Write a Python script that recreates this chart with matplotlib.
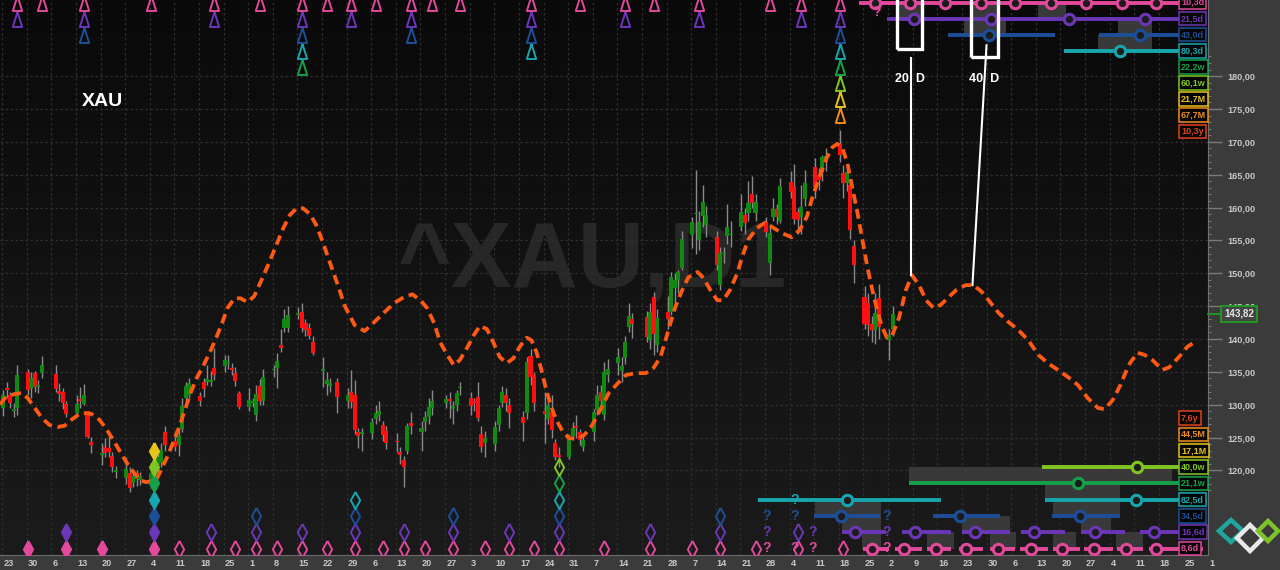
import matplotlib
matplotlib.use("Agg")
import matplotlib.pyplot as plt
import matplotlib.dates as mdates
import numpy as np
import pandas as pd
from matplotlib.patches import Rectangle, Polygon
from matplotlib.transforms import blended_transform_factory
from matplotlib.colors import LinearSegmentedColormap
from matplotlib.ticker import FixedLocator, FuncFormatter

plt.rcParams['font.family'] = ['Liberation Sans', 'DejaVu Sans']

# ------------------------------------------------------------------ data
start = pd.Timestamp("2021-08-23")
holidays = pd.to_datetime(["2021-09-06", "2021-11-25", "2021-12-24",
                           "2022-01-17", "2022-02-21", "2022-04-15"])
days = pd.bdate_range("2021-08-23", "2022-05-03")
days = days[~days.isin(holidays)]

# daily OHLC of ^XAU, one line per week
opn = [129.5, 132.6, 131.5, 129.0, 129.5,
       135.0, 132.5, 134.8, 132.7, 134.8,
       134.7, 132.1, 131.9, 130.1,
       128.7, 130.9, 130.1, 129.0, 124.3,
       122.3, 123.6, 123.4, 122.2, 119.8,
       118.8, 119.6, 118.1, 119.6, 118.5,
       118.2, 119.5, 120.8, 121.1, 125.8,
       124.5, 123.9, 126.3, 131.0, 131.5,
       131.3, 133.5, 133.5, 133.5, 135.6,
       135.9, 136.3, 135.6, 134.8, 131.8,
       129.6, 130.2, 128.4, 132.8, 130.6,
       135.3, 135.6, 139.1, 141.7, 141.7,
       143.6, 144.1, 142.5, 141.7, 139.5,
       135.2, 133.1, 132.8, 133.5,
       130.6, 131.9, 131.5, 125.8, 125.6,
       125.7, 127.8, 128.4, 126.9, 126.0,
       124.5, 122.8, 121.6, 123.0, 127.2,
       125.8, 127.4, 128.1, 129.5,
       130.3, 130.9, 129.3, 130.0, 132.5,
       131.0, 130.6, 131.2, 125.5, 124.2,
       124.0, 126.9, 130.3, 131.5, 130.0,
       128.1, 128.7, 137.4, 134.5,
       129.0, 127.8, 128.9, 124.2, 122.3,
       122.0, 125.2, 126.8, 125.9, 123.6,
       125.8, 129.2, 131.9, 128.4, 134.5,
       136.3, 135.1, 137.1, 141.8, 143.0,
       143.3, 139.8, 146.4, 139.1,
       144.1, 144.1, 147.8, 149.0, 150.8,
       155.8, 159.0, 155.0, 158.7, 157.4,
       155.5, 148.2, 152.9, 155.7, 155.8,
       157.0, 158.9, 159.2, 162.1, 159.2,
       157.8, 151.6, 158.6, 159.8, 158.0,
       163.9, 163.1, 159.3, 158.6, 161.3,
       166.2, 165.0, 165.4, 166.9,
       169.7, 165.3, 163.7, 163.4, 154.2,
       146.4, 145.5, 142.3, 141.4, 146.2,
       139.8, 141.5]
high = [132.2, 133.5, 132.0, 130.3, 136.0,
        135.5, 135.0, 135.2, 133.8, 137.4,
        136.0, 133.3, 132.5, 130.5,
        131.5, 132.7, 133.2, 129.0, 125.1,
        124.2, 124.9, 125.7, 122.8, 120.6,
        122.0, 120.5, 120.0, 120.1, 119.8,
        121.0, 121.8, 122.5, 124.2, 126.8,
        126.0, 126.5, 131.0, 133.5, 134.0,
        132.0, 134.0, 136.0, 135.2, 138.6,
        137.5, 137.5, 136.4, 135.8, 132.1,
        132.5, 131.0, 133.0, 133.9, 135.5,
        136.0, 137.8, 141.5, 144.5, 145.0,
        144.8, 145.5, 143.0, 142.5, 140.5,
        137.3, 135.0, 134.0, 134.0,
        132.5, 135.3, 133.8, 126.5, 126.5,
        128.0, 130.0, 130.5, 127.5, 126.8,
        125.7, 123.5, 122.2, 127.2, 128.9,
        127.5, 129.0, 131.0, 132.3,
        131.5, 132.0, 130.5, 132.3, 133.5,
        132.0, 131.0, 133.5, 126.8, 126.0,
        127.5, 130.0, 132.8, 132.5, 131.0,
        129.0, 137.3, 138.5, 135.0,
        132.0, 131.5, 131.5, 124.8, 123.5,
        125.5, 127.3, 128.4, 126.3, 125.6,
        129.4, 133.0, 133.0, 136.5, 137.0,
        138.7, 137.3, 140.5, 145.5, 144.0,
        144.2, 145.5, 147.2, 144.5,
        146.5, 150.2, 150.0, 150.5, 156.5,
        158.5, 165.7, 159.5, 163.5, 160.3,
        156.5, 154.0, 154.0, 160.5, 158.0,
        162.0, 160.0, 164.0, 164.8, 162.0,
        158.5, 157.5, 161.5, 160.5, 164.5,
        165.5, 166.7, 160.0, 163.5, 165.7,
        167.5, 166.0, 168.0, 169.0,
        171.8, 166.5, 166.0, 164.0, 155.0,
        148.0, 147.0, 143.5, 147.0, 148.3,
        141.5, 145.0]
low = [128.3, 131.0, 129.5, 128.2, 128.5,
       131.5, 131.0, 132.0, 131.8, 134.0,
       132.0, 130.5, 129.3, 128.2,
       128.3, 129.5, 129.9, 125.0, 122.6,
       120.8, 122.0, 122.0, 119.8, 118.9,
       118.0, 116.7, 117.5, 117.6, 117.8,
       117.3, 118.6, 119.5, 120.5, 123.0,
       123.0, 122.2, 125.8, 130.5, 131.0,
       129.8, 131.2, 133.0, 132.8, 133.8,
       135.0, 135.5, 134.5, 132.8, 129.4,
       129.0, 129.7, 127.5, 130.0, 130.0,
       134.2, 132.5, 138.0, 141.0, 141.0,
       143.0, 141.0, 140.5, 140.0, 137.5,
       132.7, 131.5, 132.0, 128.7,
       129.5, 129.5, 125.5, 123.4, 123.0,
       124.8, 127.0, 127.5, 124.5, 123.2,
       122.8, 121.0, 117.5, 122.5, 125.5,
       123.0, 126.0, 127.0, 128.5,
       129.5, 128.0, 127.0, 129.0, 131.5,
       128.5, 129.0, 127.5, 122.8, 122.0,
       123.0, 126.0, 129.7, 129.0, 126.5,
       124.5, 127.8, 133.0, 129.0,
       124.2, 127.0, 125.0, 121.6, 120.5,
       121.7, 124.6, 125.0, 123.9, 122.9,
       124.5, 128.5, 129.5, 127.7, 133.5,
       134.5, 133.5, 136.2, 141.0, 140.2,
       139.5, 138.5, 137.6, 138.0,
       141.5, 143.7, 145.5, 147.0, 150.5,
       153.9, 153.0, 153.6, 157.0, 155.6,
       150.5, 147.5, 151.5, 154.5, 154.0,
       156.5, 156.0, 158.0, 159.9, 158.0,
       155.5, 149.7, 158.0, 157.5, 157.6,
       161.5, 157.5, 156.0, 156.0, 160.3,
       161.5, 162.7, 164.0, 165.5,
       167.0, 161.5, 162.5, 155.2, 148.5,
       141.5, 140.5, 139.5, 139.2, 140.0,
       136.8, 140.5]
close = [131.5, 132.2, 130.3, 129.4, 134.5,
         132.2, 134.0, 132.7, 133.0, 136.0,
         132.4, 131.6, 130.3, 128.6,
         130.1, 130.6, 131.4, 125.1, 123.9,
         122.6, 122.6, 122.8, 120.5, 120.0,
         120.2, 117.3, 119.1, 118.7, 119.2,
         119.6, 121.0, 122.0, 123.1, 123.9,
         123.6, 125.2, 129.8, 132.9, 133.3,
         130.6, 132.4, 133.9, 133.8, 134.5,
         136.8, 136.5, 135.3, 133.6, 129.6,
         130.7, 130.5, 131.6, 130.6, 134.2,
         135.5, 136.7, 138.6, 143.0, 143.7,
         143.9, 141.7, 141.3, 140.5, 137.9,
         135.4, 133.8, 133.3, 131.2,
         131.5, 130.4, 126.1, 125.2, 125.7,
         127.4, 128.7, 129.0, 125.4, 124.2,
         124.3, 122.3, 120.5, 126.8, 126.8,
         126.4, 128.1, 129.6, 130.6,
         130.9, 130.6, 129.8, 131.8, 132.6,
         129.8, 130.3, 128.0, 123.6, 124.9,
         126.6, 129.5, 131.9, 130.3, 128.7,
         127.2, 136.5, 134.2, 130.3,
         128.6, 130.0, 126.1, 122.0, 122.0,
         125.1, 126.5, 126.5, 124.6, 124.6,
         128.9, 131.5, 130.6, 135.0, 135.5,
         137.3, 135.9, 139.5, 143.5, 142.3,
         140.3, 144.1, 140.8, 143.2,
         143.0, 149.4, 149.0, 150.2, 155.2,
         157.8, 159.2, 157.8, 160.8, 158.9,
         151.3, 153.1, 153.1, 157.1, 156.0,
         159.3, 157.7, 160.7, 160.7, 160.9,
         156.3, 156.1, 159.8, 158.6, 163.3,
         162.4, 158.3, 158.1, 160.1, 163.7,
         163.1, 164.2, 167.7, 167.9,
         168.0, 163.7, 165.4, 156.6, 151.3,
         142.3, 142.2, 141.4, 144.0, 141.8,
         140.6, 143.82]
last_price = 143.82

# composite (dashed) line: days after 2021-08-23, value
fld_day = [-0.6, 0.8, 3.4, 5.6, 7.3, 9.3, 11.3, 13.5, 15.8, 17.8,
           19.7, 22.0, 23.7, 25.4, 27.7, 29.4, 31.3, 33.3, 35.3, 37.3,
           39.3, 41.0, 42.6, 44.1, 45.5, 47.2, 48.6, 50.3, 52.0, 53.7,
           55.4, 57.3, 59.3, 61.0, 62.7, 64.1, 66.1, 67.8, 69.8, 71.7,
           73.4, 75.7, 78.0, 80.0, 81.9, 83.6, 85.6, 87.6, 89.3, 91.2,
           93.2, 95.5, 97.5, 100.3, 103.1, 105.9, 108.8, 111.6, 114.4, 116.7,
           119.0, 120.9, 122.9, 124.6, 126.6, 128.5, 130.2, 132.2, 134.2, 135.9,
           137.9, 139.8, 141.5, 143.5, 145.5, 147.2, 149.2, 150.6, 152.0, 153.4,
           154.8, 156.2, 157.6, 159.6, 161.3, 163.9, 165.6, 167.5, 169.0, 170.4,
           172.6, 175.2, 177.4, 180.2, 183.1, 185.3, 187.3, 188.7, 190.1, 191.5,
           193.5, 195.2, 197.8, 199.5, 201.4, 203.4, 205.1, 207.1, 209.1, 210.5,
           212.2, 214.7, 217.0, 219.2, 221.8, 224.6, 226.9, 228.9, 230.5, 232.5,
           234.5, 236.2, 237.6, 239.0, 240.4, 241.8, 243.3, 244.7, 246.1, 247.5,
           248.9, 250.3, 251.7, 253.2, 255.1, 257.1, 258.8, 260.8, 262.8, 265.0,
           267.0, 269.3, 271.5, 274.1, 276.3, 278.6, 280.6, 283.4, 286.2, 289.0,
           291.9, 294.7, 297.5, 300.3, 303.2, 306.0, 308.8, 311.7, 313.6, 315.9,
           318.1, 320.4, 322.9, 324.9, 327.2, 330.0, 332.0, 334.8, 337.1, 339.1]
fld_val = [130.0, 131.0, 131.6, 131.8, 131.0, 129.5, 128.0, 126.9, 126.6, 126.8,
           127.7, 128.6, 128.7, 128.6, 127.7, 126.5, 124.9, 123.1, 121.3, 119.8,
           118.5, 118.2, 118.4, 118.8, 120.4, 122.3, 124.2, 126.5, 129.2, 131.9,
           134.1, 136.0, 138.2, 140.3, 142.6, 144.7, 146.2, 146.2, 145.6, 146.5,
           148.5, 151.3, 154.3, 156.9, 158.9, 159.8, 159.9, 159.0, 157.4, 154.8,
           151.7, 148.2, 145.0, 142.1, 141.2, 142.6, 144.1, 145.5, 146.4, 146.8,
           145.9, 144.7, 142.4, 139.5, 137.6, 136.0, 136.8, 138.6, 140.6, 142.0,
           141.5, 139.4, 137.3, 136.3, 137.1, 138.8, 140.2, 139.8, 138.0, 135.3,
           132.2, 129.7, 127.7, 125.8, 124.9, 124.8, 125.4, 126.6, 128.0, 129.5,
           131.8, 133.3, 134.5, 134.8, 134.8, 135.6, 137.3, 139.8, 142.4, 144.9,
           147.5, 149.4, 150.2, 149.3, 147.5, 145.9, 145.9, 147.5, 150.0, 152.5,
           155.1, 156.9, 157.7, 157.0, 156.1, 155.5, 156.6, 158.6, 161.6, 164.7,
           167.5, 169.2, 169.7, 169.1, 166.8, 163.1, 159.2, 155.1, 151.0, 147.5,
           144.4, 141.8, 140.2, 140.6, 143.2, 147.5, 149.7, 148.2, 145.9, 144.7,
           145.2, 146.4, 147.5, 148.2, 148.2, 147.2, 145.9, 144.0, 142.6, 141.4,
           139.8, 137.6, 136.3, 135.3, 134.2, 133.0, 131.0, 129.5, 129.3, 130.7,
           133.0, 136.0, 137.9, 137.6, 136.8, 135.3, 135.7, 137.3, 138.8, 139.5]

# cycle colours / labels (shortest cycle first)
cyc_colors = ['#e2489b', '#6c36b8', '#1c4f98', '#18a6ae', '#15a149',
              '#80c520', '#e6c41b', '#f08d1b', '#e2411b']
top_labels = ["10,3d", "21,5d", "43,0d", "80,3d", "22,2w", "60,1w", "21,7M", "67,7M", "10,3y"]
bot_labels = ["8,6d", "16,6d", "34,5d", "82,5d", "21,1w", "40,0w", "17,1M", "44,5M", "7,6y"]

# past peaks (triangles, top) and troughs (diamonds, bottom): date, number of cycles
peak_dates = ["2021-08-27", "2021-09-03", "2021-09-15", "2021-10-04", "2021-10-22",
              "2021-11-04", "2021-11-16", "2021-11-23", "2021-11-30", "2021-12-07",
              "2021-12-17", "2021-12-23", "2021-12-31", "2022-01-20", "2022-02-03",
              "2022-02-16", "2022-02-24", "2022-03-09", "2022-03-29", "2022-04-07",
              "2022-04-18"]
peak_depth = [2, 1, 3, 1, 2, 1, 5, 1, 2, 1, 3, 1, 1, 4, 1, 2, 1, 2, 1, 2, 8]
trough_dates = ["2021-08-30", "2021-09-10", "2021-09-20", "2021-10-05", "2021-10-12",
                "2021-10-21", "2021-10-28", "2021-11-03", "2021-11-09", "2021-11-16",
                "2021-11-23", "2021-12-01", "2021-12-09", "2021-12-15", "2021-12-21",
                "2021-12-29", "2022-01-07", "2022-01-14", "2022-01-21", "2022-01-28",
                "2022-02-10", "2022-02-23", "2022-03-07", "2022-03-15", "2022-03-25",
                "2022-04-06", "2022-04-19"]
trough_depth = [1, 2, 1, 7, 1, 2, 1, 3, 1, 2, 1, 4, 1, 2, 1, 3, 1, 2, 1, 6, 1, 2, 1, 3, 1, 2, 1]
trough_filled = [True, True, True, True] + [False] * 23

# unconfirmed troughs "?" (days after start, cycle rows)
q_day = [217.5, 225.5, 230.5, 251.7]
q_rows = [[0, 1, 2], [0, 2, 3], [0, 1], [0, 1, 2]]

# projected troughs (bottom) and peaks (top): days after start
bot_circles = [[247.5, 256.5, 265.6, 274.3, 283.4, 292.7, 301.5, 310.5, 319.6, 328.3],
               [242.7, 259.7, 276.6, 293.6, 310.8, 327.7],
               [238.5, 272.6, 306.6],
               [240.4, 322.4],
               [306.0],
               [322.7]]
bot_bars = [[(244.9, 252.3), (254.0, 261.6), (263.0, 269.8), (272.1, 279.1), (281.1, 288.2),
             (289.6, 297.5), (298.9, 306.6), (307.7, 315.9), (317.0, 324.4), (326.1, 341.5)],
            [(239.0, 251.5), (256.0, 269.8), (272.9, 286.8), (289.9, 302.3), (306.8, 319.3),
             (323.8, 341.5)],
            [(230.8, 249.8), (264.7, 283.9), (298.6, 317.9)],
            [(215.0, 267.0), (296.7, 341.5)],
            [(257.9, 341.5)],
            [(295.8, 341.5)]]
bot_windows = [(4, 257.9, 332.8), (2, 231.1, 250.0), (1, 239.0, 250.0), (0, 244.7, 250.0),
               (0, 263.0, 270.7), (1, 272.9, 286.8), (0, 281.1, 288.5), (3, 296.7, 317.9),
               (2, 298.9, 317.9), (1, 306.8, 315.3), (0, 298.9, 305.4), (0, 316.7, 324.4)]
top_circles = [[248.3, 258.2, 268.1, 278.3, 288.2, 298.4, 308.3, 318.4, 328.3],
               [259.4, 281.4, 303.4, 325.2],
               [280.8, 323.8],
               [318.1]]
top_bars = [[(243.8, 341.5)], [(251.7, 341.5)], [(269.0, 299.5), (311.9, 341.5)], [(302.0, 341.5)]]
top_windows = [(0, 255.1, 262.2), (1, 273.5, 285.6), (0, 276.3, 283.9), (0, 294.7, 302.6),
               (2, 311.6, 327.2), (1, 317.3, 327.2)]

# white annotation: boxes (day0, day1, low, high), pointer lines, labels
ann_boxes = [(254.6, 261.6, 184.1, 191.8), (275.5, 283.4, 182.9, 191.8)]
ann_lines = [((258.5, 182.8), (258.5, 149.7)), ((280.0, 184.7), (276.0, 148.2))]
ann_text = [(258.2, 179.6, "20  D"), (279.2, 179.6, "40  D")]

# ------------------------------------------------------------------ layout
W, H, PW, PH = 1280, 570, 1208, 555
PX_DAY = 3.539
TOP_ROWS = [2.5 + 16.1 * i for i in range(9)]
BOT_ROWS = [548.5 - 16.3 * i for i in range(9)]


def yrow(px):
    return 1 - px / PH


fig = plt.figure(figsize=(12.8, 5.7), dpi=100, facecolor='#3b3b3b')
ax = fig.add_axes([0, 1 - PH / H, PW / W, PH / H])
t0 = mdates.date2num(start)
bl = blended_transform_factory(ax.transData, ax.transAxes)

grad = np.linspace(0, 1, 256).reshape(-1, 1)
bg = LinearSegmentedColormap.from_list('bg', ['#1b1b1b', '#0a0a0a'])
ax.imshow(grad, extent=[0, 1, 0, 1], transform=ax.transAxes, origin='lower',
          aspect='auto', cmap=bg, zorder=0)

x0 = t0 - 0.593
ax.set_xlim(x0, x0 + PW / PX_DAY)
ax.set_ylim(107.12, 191.6)

mondays = pd.date_range("2021-08-23", "2022-08-01", freq="7D")
ax.set_xticks(mdates.date2num(mondays))
ax.tick_params(axis='x', length=0, labelbottom=False)
ax.yaxis.tick_right()
ax.yaxis.set_major_locator(FixedLocator(np.arange(120, 181, 5)))
ax.yaxis.set_minor_locator(FixedLocator(np.arange(117, 184, 1)))
ax.yaxis.set_major_formatter(FuncFormatter(lambda v, p: f"{v:.2f}".replace('.', ',')))
ax.tick_params(axis='y', which='major', length=10, width=1, color='#7a7a7a',
               labelcolor='#c8c8c8', labelsize=6.6, pad=4)
ax.tick_params(axis='y', which='minor', length=2.5, width=0.8, color='#7a7a7a')
for lab in ax.get_yticklabels():
    lab.set_fontweight('bold')
ax.grid(True, which='major', color='#2f2f2f', lw=0.9, ls=(0, (2, 2)))
for s in ['left', 'top']:
    ax.spines[s].set_visible(False)
ax.spines['right'].set_color('#707070')
ax.spines['bottom'].set_color('#6a6a6a')

for d in mondays:
    ax.text(mdates.date2num(d) + 0.3, -8 / PH, str(d.day), transform=bl, ha='left',
            va='center', fontsize=6.6, fontweight='bold', color='#c8c8c8', clip_on=False)

# watermark and title
ax.text(593 / PW, yrow(262), "^XAU,D1", transform=ax.transAxes, ha='center', va='center',
        fontsize=66, fontweight='bold', color='#272727', zorder=0.5)
ax.text(102 / PW, yrow(102), "XAU", transform=ax.transAxes, ha='center', va='center',
        fontsize=14, fontweight='bold', color='white', zorder=9)

# candles
o, h, l, c = map(np.array, (opn, high, low, close))
xc = mdates.date2num(days) + 0.3
col = np.where(c >= o, '#118a11', '#ff1010')
ax.vlines(xc, l, h, color='#8a8a8a', lw=1.0, zorder=3)
ax.bar(xc, np.maximum(np.abs(c - o), 0.2), bottom=np.minimum(o, c), width=1.15,
       color=col, lw=0, zorder=4)

# composite line
ax.plot(t0 + np.array(fld_day), fld_val, color='#ff5a14', lw=2.7, dashes=(2.6, 1.5),
        zorder=5)

# gray windows
for r, s, e in bot_windows:
    ax.add_patch(Rectangle((t0 + s, yrow(BOT_ROWS[r])), e - s,
                           yrow(BOT_ROWS[r + 1]) - yrow(BOT_ROWS[r]), transform=bl,
                           fc='#393939', ec='none', zorder=2))
for r, s, e in top_windows:
    ax.add_patch(Rectangle((t0 + s, yrow(TOP_ROWS[r + 1])), e - s,
                           yrow(TOP_ROWS[r]) - yrow(TOP_ROWS[r + 1]), transform=bl,
                           fc='#393939', ec='none', zorder=2))

# projected cycle lines
for rows, bars, circs in ((BOT_ROWS, bot_bars, bot_circles), (TOP_ROWS, top_bars, top_circles)):
    for r in range(len(bars)):
        yy = yrow(rows[r])
        for s, e in bars[r]:
            ax.plot([t0 + s, t0 + e], [yy, yy], transform=bl, color=cyc_colors[r], lw=2.8,
                    solid_capstyle='butt', zorder=6)
        ax.plot(t0 + np.array(circs[r]), [yy] * len(circs[r]), transform=bl, ls='none',
                marker='o', ms=7.5, mfc='#1c1c1c', mec=cyc_colors[r], mew=2.2, zorder=7)

# peaks / troughs markers
tri = [(0, 1), (-0.62, -1), (0.62, -1), (0, 1)]
dia = [(0, 1), (0.55, 0), (0, -1), (-0.55, 0), (0, 1)]
for d, n in zip(peak_dates, peak_depth):
    xd = mdates.date2num(pd.Timestamp(d)) + 0.3
    for i in range(n):
        ax.plot(xd, yrow(TOP_ROWS[i]), transform=bl, marker=tri, ms=10.8, mfc='none',
                mec=cyc_colors[i], mew=1.4, ls='none', zorder=6)
for d, n, f in zip(trough_dates, trough_depth, trough_filled):
    xd = mdates.date2num(pd.Timestamp(d)) + 0.3
    for i in range(n):
        ax.plot(xd, yrow(BOT_ROWS[i]), transform=bl, marker=dia, ms=12.2,
                mfc=cyc_colors[i] if f else 'none', mec=cyc_colors[i], mew=1.4,
                ls='none', zorder=6)
for d, rr in zip(q_day, q_rows):
    for r in rr:
        ax.text(t0 + d, yrow(BOT_ROWS[r]), "?", transform=bl, ha='center', va='center',
                fontsize=10, fontweight='bold', color=cyc_colors[r], zorder=7)
ax.text(t0 + 248.6, yrow(12), "?", transform=bl, ha='center', va='center', fontsize=10,
        fontweight='bold', color=cyc_colors[0], zorder=7)

# cycle labels at the right edge
for rows, labels in ((TOP_ROWS, top_labels), (BOT_ROWS, bot_labels)):
    for r, txt in enumerate(labels):
        ax.text(1181 / PW, yrow(rows[r]), txt, transform=ax.transAxes, ha='left', va='center',
                fontsize=6.5, fontweight='bold', color=cyc_colors[r], zorder=9,
                bbox=dict(boxstyle='square,pad=0.25', fc='#050505', ec=cyc_colors[r], lw=1.1))

# white annotation
for d0, d1, lo, hi in ann_boxes:
    ax.add_patch(Rectangle((t0 + d0, lo), d1 - d0, hi - lo, fill=False, ec='white',
                           lw=2.4, zorder=9, clip_on=False))
for (a0, b0), (a1, b1) in ann_lines:
    ax.plot([t0 + a0, t0 + a1], [b0, b1], color='white', lw=1.5, zorder=9)
for d, v, txt in ann_text:
    ax.text(t0 + d, v, txt, ha='center', va='center', fontsize=9, fontweight='bold',
            color='white', zorder=10)

# last price tag (covers the 145 label, as in the source)
ab = blended_transform_factory(ax.transAxes, ax.transData)
ax.plot([1.0, 1.0 + 14 / PW], [last_price] * 2, transform=ab, color='#1e9e1e', lw=1.3,
        clip_on=False, zorder=10)
ax.text(1.0 + 16 / PW, last_price, f"{last_price:.2f}".replace('.', ','), transform=ab,
        ha='left', va='center', fontsize=7, fontweight='bold', color='#e6e6e6', zorder=11,
        clip_on=False, bbox=dict(boxstyle='square,pad=0.3', fc='#454545', ec='#1e9e1e', lw=1.3))

# logo in the corner
for (cx, cy, hw, hh), colr in zip([(1231, 531, 12, 11), (1250, 538, 13, 13), (1268, 531, 10, 10)],
                                  ['#1fa6a0', '#e8e8e8', '#7cc22a']):
    pts = [((cx) / W, 1 - (cy - hh) / H), ((cx + hw) / W, 1 - cy / H),
           (cx / W, 1 - (cy + hh) / H), ((cx - hw) / W, 1 - cy / H)]
    fig.patches.append(Polygon(pts, closed=True, fill=False, ec=colr, lw=3.2,
                               transform=fig.transFigure, figure=fig))

fig.savefig("out.png", dpi=100, facecolor=fig.get_facecolor())
